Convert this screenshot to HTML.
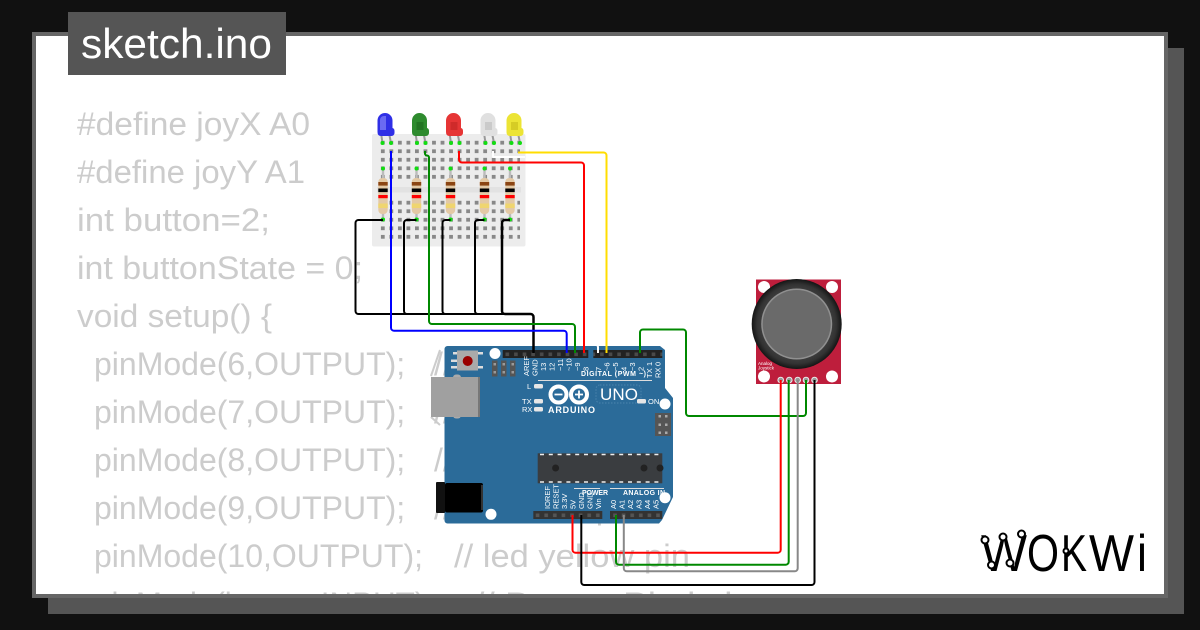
<!DOCTYPE html>
<html><head><meta charset="utf-8"><style>
html,body{margin:0;padding:0;background:#111;width:1200px;height:630px;overflow:hidden}
svg{display:block}
.c{font-family:"Liberation Sans",sans-serif;font-size:32px;fill:#ccc;white-space:pre}
.p{font-family:"Liberation Sans",sans-serif;font-size:7.5px;fill:#fff}
.l{font-family:"Liberation Sans",sans-serif;font-size:52px;fill:#000}
</style></head><body>
<svg width="1200" height="630" viewBox="0 0 1200 630" xmlns="http://www.w3.org/2000/svg">
<defs>
<pattern id="h" x="380.9" y="140.8" width="8.53" height="8.53" patternUnits="userSpaceOnUse"><rect width="3.800" height="3.800" fill="#888"/></pattern>
<pattern id="h2" x="380.9" y="200.800" width="8.53" height="8.53" patternUnits="userSpaceOnUse"><rect width="3.800" height="3.800" fill="#888"/></pattern>
<pattern id="pin" x="503" y="350" width="8.6" height="8" patternUnits="userSpaceOnUse"><rect width="8.6" height="8" fill="#222"/><rect x="2.5" y="2.5" width="3.6" height="3.6" fill="#4a4a4a"/></pattern>
<pattern id="pin2" x="533.3" y="511" width="8.6" height="8" patternUnits="userSpaceOnUse"><rect width="8.6" height="8" fill="#333"/><rect x="2.5" y="2.5" width="3.6" height="3.6" fill="#555"/></pattern>
<radialGradient id="ring"><stop offset="0.7" stop-color="#444"/><stop offset="0.88" stop-color="#333"/><stop offset="1" stop-color="#151515"/></radialGradient>
<g id="res"><rect x="-1.2" y="-2" width="2.4" height="53" fill="#bbb"/><rect x="-4.7" y="9.5" width="9.4" height="36" rx="4" fill="#e3c9a5"/><rect x="-4.7" y="13.500" width="9.4" height="3.6" fill="#8b4513"/><rect x="-4.7" y="20" width="9.4" height="3.600" fill="#000"/><rect x="-4.7" y="26.500" width="9.4" height="3.2" fill="#f00"/><rect x="-4.7" y="35" width="9.4" height="4.500" fill="#efd56f"/><circle cy="0" r="2" fill="#1d1"/><circle cy="51" r="2" fill="#1d1"/></g>
<g id="legs"><path d="M-4 20L-2.500 30M4 20L6 30" stroke="#999" stroke-width="2" fill="none"/><circle cx="-2.500" cy="30" r="2" fill="#1d1"/><circle cx="6" cy="30" r="2" fill="#1d1"/></g>
</defs>
<rect width="1200" height="630" fill="#111"/>
<rect x="48" y="48" width="1136" height="566" fill="#555"/>
<rect x="32" y="32" width="1136" height="566" fill="#666"/>
<rect x="36" y="36" width="1128" height="558" fill="#fff"/>
<svg x="36" y="36" width="1128" height="558" viewBox="36 36 1128 558">
<text class="c" x="77" y="135" textLength="233" lengthAdjust="spacingAndGlyphs">#define joyX A0</text>
<text class="c" x="77" y="183" textLength="228" lengthAdjust="spacingAndGlyphs">#define joyY A1</text>
<text class="c" x="77" y="231" textLength="193" lengthAdjust="spacingAndGlyphs">int button=2;</text>
<text class="c" x="77" y="279" textLength="286" lengthAdjust="spacingAndGlyphs">int buttonState = 0;</text>
<text class="c" x="77" y="327" textLength="195" lengthAdjust="spacingAndGlyphs">void setup() {</text>
<text class="c" x="94" y="375">pinMode(6,OUTPUT);</text>
<text class="c" x="94" y="423">pinMode(7,OUTPUT);</text>
<text class="c" x="94" y="471">pinMode(8,OUTPUT);</text>
<text class="c" x="94" y="519">pinMode(9,OUTPUT);</text>
<text class="c" x="94" y="567">pinMode(10,OUTPUT);</text>
<text class="c" x="454" y="567" textLength="236" lengthAdjust="spacingAndGlyphs">// led yellow pin</text>
<text class="c" x="434" y="375">// led blue pin</text>
<text class="c" x="434" y="423">// led green pin</text>
<text class="c" x="434" y="471">// led red pin</text>
<text class="c" x="434" y="519">// led white pin</text>
<text class="c" x="94" y="615" textLength="340" lengthAdjust="spacingAndGlyphs">pinMode(button,INPUT);</text>
<text class="c" x="474" y="615" textLength="331" lengthAdjust="spacingAndGlyphs">// Button Pin is input</text>
</svg>
<rect x="68" y="12" width="218" height="63" fill="#555"/>
<text x="81" y="58" font-family="'Liberation Sans',sans-serif" font-size="42" fill="#fff" textLength="191" lengthAdjust="spacingAndGlyphs">sketch.ino</text>

<!-- breadboard -->
<rect x="372" y="134" width="153.500" height="112.500" rx="2" fill="#ececec"/>
<rect x="380" y="140" width="140" height="39" fill="url(#h)"/>
<rect x="380" y="200" width="140" height="40" fill="url(#h2)"/>
<rect x="377" y="187" width="144" height="5.500" fill="#e2e2e2"/>
<!-- LEDs -->
<g transform="translate(385,113)"><use href="#legs"/><path d="M-7.500 7.500a7.500 7.500 0 0 1 15 0V15q2 .5 2 3v2a3 3 0 0 1-3 3H-4q-3.500 0-3.500-4z" fill="#2f2fe6"/><path d="M-5 7a4 4 0 0 1 4-4h2v14h-6z" fill="#6a6af2"/></g>
<g transform="translate(419.500,113)"><use href="#legs"/><path d="M-7.500 7.500a7.500 7.500 0 0 1 15 0V15q2 .5 2 3v2a3 3 0 0 1-3 3H-4q-3.500 0-3.500-4z" fill="#2e8b2e"/><path d="M-3 9h7v8h-7z" fill="#237523"/></g>
<g transform="translate(453.500,113)"><use href="#legs"/><path d="M-7.500 7.500a7.500 7.500 0 0 1 15 0V15q2 .5 2 3v2a3 3 0 0 1-3 3H-4q-3.500 0-3.500-4z" fill="#e63535"/><path d="M-3 9h7v8h-7z" fill="#cf2a2a"/></g>
<g transform="translate(488,113)"><use href="#legs"/><path d="M-7.500 7.500a7.500 7.500 0 0 1 15 0V15q2 .5 2 3v2a3 3 0 0 1-3 3H-4q-3.500 0-3.500-4z" fill="#e0e0e0"/><path d="M-3 9h7v8h-7z" fill="#cacaca"/></g>
<g transform="translate(514,113)"><use href="#legs"/><path d="M-7.500 7.500a7.500 7.500 0 0 1 15 0V15q2 .5 2 3v2a3 3 0 0 1-3 3H-4q-3.500 0-3.500-4z" fill="#ece435"/><path d="M-3 9h7v8h-7z" fill="#d6cc25"/></g>
<!-- resistors -->
<use href="#res" x="383" y="168.500"/><use href="#res" x="416.500" y="168.500"/><use href="#res" x="450.500" y="168.500"/><use href="#res" x="484.500" y="168.500"/><use href="#res" x="510" y="168.500"/>

<!-- Arduino -->
<path d="M431 376L440 350M431 417L440 425" stroke="#ccc" stroke-width="2" fill="none"/>
<path d="M444.500 349a3 3 0 0 1 3-3H660l5 4V388l8 10V497l-11 23-3 3.500H447.500a3 3 0 0 1-3-3z" fill="#2b6b99"/>
<rect x="453" y="352" width="5" height="2.500" fill="#ddd"/><rect x="451" y="359.500" width="7" height="2.500" fill="#ddd"/><rect x="451" y="366" width="7" height="2.500" fill="#ddd"/><rect x="477" y="352" width="6" height="2.500" fill="#ddd"/><rect x="477" y="366" width="6" height="2.500" fill="#ddd"/>
<rect x="457" y="350.500" width="21" height="20" fill="#aaa"/><circle cx="467.700" cy="361" r="5" fill="#900"/>
<circle cx="495" cy="353.500" r="5.500" fill="#fff"/><circle cx="665" cy="404" r="5.500" fill="#fff"/><circle cx="491" cy="514.300" r="5.500" fill="#fff"/><circle cx="665" cy="497.700" r="5.500" fill="#fff"/>
<rect x="453" y="374.500" width="8" height="44" rx="3" fill="#aaa"/>
<rect x="431" y="377" width="49" height="40" fill="#a0a0a0"/><rect x="478" y="377" width="2" height="40" fill="#777"/>
<rect x="436" y="482" width="9" height="31" rx="1" fill="#111"/><rect x="445" y="483" width="38" height="29.500" rx="2" fill="#000"/><rect x="481" y="485" width="2" height="25" fill="#333"/>
<rect x="492" y="360.500" width="5.500" height="16" fill="#555"/><rect x="501" y="360.500" width="5.500" height="16" fill="#555"/><rect x="510" y="360.500" width="5.500" height="16" fill="#555"/>
<g fill="#999"><rect x="493.500" y="363" width="2.500" height="2.500"/><rect x="493.500" y="371" width="2.500" height="2.500"/><rect x="502.500" y="363" width="2.500" height="2.500"/><rect x="502.500" y="371" width="2.500" height="2.500"/><rect x="511.500" y="363" width="2.500" height="2.500"/><rect x="511.500" y="371" width="2.500" height="2.500"/></g>
<rect x="655" y="413" width="16" height="23" fill="#555"/>
<g fill="#aaa"><rect x="658.500" y="415" width="2.500" height="2.500"/><rect x="665" y="415" width="2.500" height="2.500"/><rect x="658.500" y="423.500" width="2.500" height="2.500"/><rect x="665" y="423.500" width="2.500" height="2.500"/><rect x="658.500" y="431.500" width="2.500" height="2.500"/><rect x="665" y="431.500" width="2.500" height="2.500"/></g>
<rect x="502.700" y="350" width="85.600" height="8" fill="url(#pin)"/><rect x="593.300" y="350" width="69" height="8" fill="url(#pin)"/>
<rect x="533.300" y="511" width="69" height="8" fill="url(#pin2)"/><rect x="610" y="511" width="52.300" height="8" fill="url(#pin2)"/>
<rect x="537.700" y="453.300" width="124.600" height="30" fill="#3a3d40"/>
<path d="M540 454.500H660M540 482H660" stroke="#eee" stroke-width="1.500" stroke-dasharray="4 4.800"/>
<circle cx="555.600" cy="468" r="3.500" fill="#222"/><circle cx="644" cy="468" r="3.500" fill="#222"/><circle cx="660" cy="468" r="3.500" fill="#222"/>
<g>
<text class="p" transform="translate(529,376) rotate(-90)">AREF</text>
<text class="p" transform="translate(537.500,376) rotate(-90)">GND</text>
<text class="p" transform="translate(546,371) rotate(-90)">13</text>
<text class="p" transform="translate(554.500,371) rotate(-90)">12</text>
<text class="p" transform="translate(563,371) rotate(-90)">~11</text>
<text class="p" transform="translate(571.700,371) rotate(-90)">~10</text>
<text class="p" transform="translate(580,371) rotate(-90)">~9</text>
<text class="p" transform="translate(588.500,371) rotate(-90)">8</text>
<text class="p" transform="translate(601,371) rotate(-90)">7</text>
<text class="p" transform="translate(609.500,371) rotate(-90)">~6</text>
<text class="p" transform="translate(618,371) rotate(-90)">~5</text>
<text class="p" transform="translate(626.500,371) rotate(-90)">4</text>
<text class="p" transform="translate(635,371) rotate(-90)">~3</text>
<text class="p" transform="translate(643.500,371) rotate(-90)">2</text>
<text class="p" transform="translate(652,366) rotate(-90)">1</text>
<text class="p" transform="translate(660.500,366) rotate(-90)">0</text>
<text class="p" transform="translate(652,378) rotate(-90)">TX</text>
<text class="p" transform="translate(660.500,378) rotate(-90)">RX</text>
<text class="p" transform="translate(550,509) rotate(-90)">IOREF</text>
<text class="p" transform="translate(558.500,509) rotate(-90)">RESET</text>
<text class="p" transform="translate(567,509) rotate(-90)">3.3V</text>
<text class="p" transform="translate(575.500,509) rotate(-90)">5V</text>
<text class="p" transform="translate(584,509) rotate(-90)">GND</text>
<text class="p" transform="translate(592.500,509) rotate(-90)">GND</text>
<text class="p" transform="translate(601,509) rotate(-90)">Vin</text>
<text class="p" transform="translate(616,509) rotate(-90)">A0</text>
<text class="p" transform="translate(624.500,509) rotate(-90)">A1</text>
<text class="p" transform="translate(633,509) rotate(-90)">A2</text>
<text class="p" transform="translate(641.500,509) rotate(-90)">A3</text>
<text class="p" transform="translate(650,509) rotate(-90)">A4</text>
<text class="p" transform="translate(658.500,509) rotate(-90)">A5</text>
</g>
<text x="581" y="376" font-family="'Liberation Sans',sans-serif" font-weight="bold" font-size="7" fill="#fff" textLength="65">DIGITAL (PWM ~)</text>
<path d="M538 380.500H652" stroke="#ddd" stroke-width="1"/>
<text x="582" y="495" font-family="'Liberation Sans',sans-serif" font-weight="bold" font-size="7" fill="#fff" textLength="26">POWER</text>
<text x="623" y="495" font-family="'Liberation Sans',sans-serif" font-weight="bold" font-size="7" fill="#fff" textLength="42">ANALOG IN</text>
<path d="M574 488.500H600M610 488.500H664" stroke="#ddd" stroke-width="1"/>
<g fill="none" stroke="#fff" stroke-width="4"><circle cx="558.500" cy="394.500" r="8"/><circle cx="579" cy="394.500" r="8"/></g>
<path d="M554.500 394.500h8M575 394.500h8M579 390.500v8" stroke="#fff" stroke-width="1.800"/>
<text x="548" y="413" font-family="'Liberation Sans',sans-serif" font-weight="bold" font-size="9" fill="#fff" textLength="47">ARDUINO</text>
<rect x="596" y="385" width="45" height="18" rx="4" fill="none" stroke="#4b84ad" stroke-width="1" stroke-dasharray="1.500 1.500"/>
<text x="600" y="400" font-family="'Liberation Sans',sans-serif" font-size="17" fill="#fff" textLength="38">UNO</text>
<g fill="#e6e6e6"><rect x="534" y="384" width="9" height="4.500" rx="1.500"/><rect x="534" y="399" width="9" height="4.500" rx="1.500"/><rect x="534" y="407" width="9" height="4.500" rx="1.500"/><rect x="637" y="399" width="9" height="4.500" rx="1.500"/></g>
<text class="p" x="527" y="389">L</text><text class="p" x="522" y="404">TX</text><text class="p" x="522" y="412">RX</text><text class="p" x="648" y="404">ON</text>

<!-- Joystick -->
<rect x="756" y="279.500" width="85" height="104.500" fill="#be1e3c"/>
<g fill="#fff"><circle cx="764" cy="287" r="6"/><circle cx="832" cy="287" r="6"/><circle cx="764" cy="376.500" r="6"/><circle cx="832" cy="376.500" r="6"/></g>
<circle cx="796.700" cy="324" r="45" fill="url(#ring)"/><circle cx="796.700" cy="324" r="35.500" fill="#909090"/><circle cx="796.700" cy="324" r="34" fill="#6a6a6a"/>
<text x="758" y="365" font-family="'Liberation Sans',sans-serif" font-size="4.500" fill="#fff">Analog</text><text x="758" y="369.500" font-family="'Liberation Sans',sans-serif" font-size="4.500" fill="#fff">Joystick</text>
<g fill="#999" stroke="#eee" stroke-width="1"><circle cx="780.700" cy="380" r="2.800"/><circle cx="789.300" cy="380" r="2.800"/><circle cx="797.700" cy="380" r="2.800"/><circle cx="806" cy="380" r="2.800"/><circle cx="814.500" cy="380" r="2.800"/></g>

<!-- Wires -->
<g fill="none" stroke-width="2" stroke-linejoin="round">
<path d="M383 220H358.500a3 3 0 0 0-3 3V311a3 3 0 0 0 3 3H530.500a3 3 0 0 1 3 3V353" stroke="#000"/>
<path d="M416.500 220H407a3 3 0 0 0-3 3V311a3 3 0 0 0 3 3H530" stroke="#000"/>
<path d="M450.500 220H445.500a3 3 0 0 0-3 3V311a3 3 0 0 0 3 3H530" stroke="#000"/>
<path d="M484.500 220H478a3 3 0 0 0-3 3V311a3 3 0 0 0 3 3H530" stroke="#000"/>
<path d="M510 220H505a3 3 0 0 0-3 3V311a3 3 0 0 0 3 3H530.500a3 3 0 0 1 3 3V353" stroke="#000" stroke-width="2.500"/>
<path d="M391 151V327.700a3 3 0 0 0 3 3H563.700a3 3 0 0 1 3 3V353" stroke="#00f"/>
<path d="M425 151V154l1 1.500h1a2 2 0 0 1 2 2V321a3 3 0 0 0 3 3H572a3 3 0 0 1 3 3V353" stroke="#080"/>
<path d="M459 151V159.500a3 3 0 0 0 3 3H581a3 3 0 0 1 3 3V353" stroke="#f00"/>
<path d="M493 151V157H525M594 345H596a2 2 0 0 1 2 2V353" stroke="#fff"/>
<path d="M518 152.500H603.500a3 3 0 0 1 3 3V353" stroke="#fd0"/>
<path d="M640 353V332.500a3 3 0 0 1 3-3H683a3 3 0 0 1 3 3V413a3 3 0 0 0 3 3H803a3 3 0 0 0 3-3V380" stroke="#080"/>
<path d="M572.500 515V549.700a3 3 0 0 0 3 3H777.700a3 3 0 0 0 3-3V380" stroke="#f00"/>
<path d="M616 515V561.700a3 3 0 0 0 3 3H785.700a3 3 0 0 0 3-3V380" stroke="#080"/>
<path d="M623.800 515V568.300a3 3 0 0 0 3 3H794.700a3 3 0 0 0 3-3V380" stroke="#888"/>
<path d="M581.300 515V582a3 3 0 0 0 3 3H811.500a3 3 0 0 0 3-3V380" stroke="#000"/>
</g>

<!-- Wokwi logo -->
<text class="l" x="981" y="571" textLength="46" lengthAdjust="spacingAndGlyphs">W</text>
<text class="l" x="1027" y="571" textLength="32" lengthAdjust="spacingAndGlyphs">O</text>
<text class="l" x="1061" y="571" textLength="26" lengthAdjust="spacingAndGlyphs">K</text>
<text class="l" x="1089" y="571" textLength="45" lengthAdjust="spacingAndGlyphs">W</text>
<text class="l" x="1137" y="571" textLength="10" lengthAdjust="spacingAndGlyphs">i</text>
<g fill="#fff" stroke="#000" stroke-width="2"><circle cx="985" cy="540" r="3.500"/><circle cx="1003" cy="537" r="3.500"/><circle cx="1021.500" cy="534" r="3.500"/><circle cx="991.500" cy="565" r="3.500"/><circle cx="1010" cy="563" r="3.500"/><circle cx="1066" cy="551" r="2.500"/></g>
</svg>
</body></html>
